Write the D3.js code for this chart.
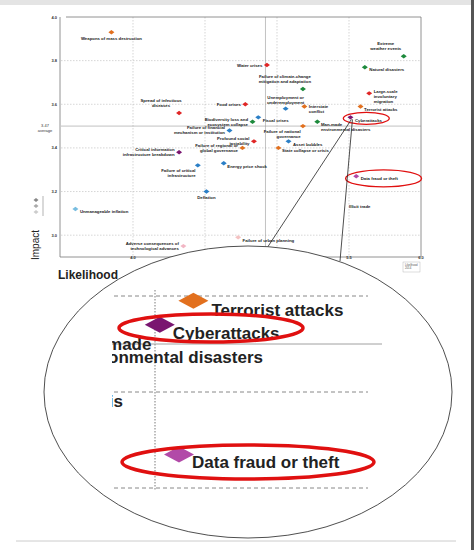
<!DOCTYPE html>
<html><head><meta charset="utf-8">
<script src="https://cdn.jsdelivr.net/npm/d3@7"></script>
<style>body{margin:0;background:#fff}svg{display:block;font-family:Arial,"Liberation Sans",sans-serif}</style>
</head><body><svg id="c" width="474" height="550"></svg>
<script>
const risks = ["Weapons of mass destruction","Water crises","Failure of climate-change|mitigation and adaptation","Food crises","Unemployment or|underemployment","Interstate|conflict","Fiscal crises","Biodiversity loss and|ecosystem collapse","Man-made|environmental disasters","Failure of national|governance","Cyberattacks","Terrorist attacks","Large-scale|involuntary|migration","Natural disasters","Extreme|weather events","Failure of financial|mechanism or institution","Profound social|instability","Asset bubbles","State collapse or crisis","Failure of regional or|global governance","Spread of infectious|diseases","Critical information|infrastructure breakdown","Failure of critical|infrastructure","Energy price shock","Data fraud or theft","Illicit trade","Deflation","Unmanageable inflation","Adverse consequences of|technological advances","Failure of urban planning"];
const likelihood = [3.85,4.93,5.18,4.78,5.06,5.19,4.87,4.83,5.28,5.18,5.51,5.58,5.64,5.61,5.88,4.67,4.84,5.08,5.01,4.76,4.32,4.32,4.45,4.63,5.55,5.50,4.51,3.60,4.35,4.73];
const impact = [3.93,3.78,3.67,3.60,3.58,3.59,3.54,3.52,3.52,3.50,3.54,3.59,3.65,3.77,3.82,3.48,3.43,3.43,3.40,3.40,3.56,3.38,3.32,3.33,3.27,3.13,3.20,3.12,2.95,2.99];
const category = ["geo","soc","env","soc","eco","geo","eco","env","env","geo","tec","geo","soc","env","env","eco","soc","eco","geo","geo","soc","tec","eco","eco","tec2","none","eco","eco2","tec3","soc2"];
const labelSide = ["b","l","tl","l","t","r","r","l","br","bl","r","br","r","r","tl","l","l","r","br","l","tl","l","bl","br","r","c","b","r","l","r"];
const xTicks = [4.0,5.5,6.0];
const yTicks = [4.0,3.8,3.6,3.4,3.2,3.0];
const xGrid = [4.0,4.5,5.0,5.5];
const avgImpact = 3.47, avgLikelihood = 4.92;
const colors = {geo:"#e2701e",soc:"#e02626",env:"#1d8a3c",eco:"#2b7fc6",tec:"#7a1670",tec2:"#b24aa8",tec3:"#f2b6c4",eco2:"#78bde0",soc2:"#f4c2c2",none:"none"};

const svg = d3.select("#c");
svg.append("rect").attr("x",0).attr("y",0).attr("width",474).attr("height",5).attr("fill","#e4e4e4");
svg.append("line").attr("x1",472.5).attr("x2",472.5).attr("y1",0).attr("y2",550).attr("stroke","#555").attr("stroke-width",3);

const x = d3.scaleLinear().domain([3.5,6.0]).range([61,421]);
const y = d3.scaleLinear().domain([2.9,4.0]).range([257,17]);
const g = svg.append("g");
xGrid.forEach(v=>g.append("line").attr("x1",x(v)).attr("x2",x(v)).attr("y1",17).attr("y2",257).attr("stroke","#bbb").attr("stroke-width",0.6).attr("stroke-dasharray","1.5,1.5"));
[3.8,3.6,3.4,3.2,3.0].forEach(v=>g.append("line").attr("x1",61).attr("x2",421).attr("y1",y(v)).attr("y2",y(v)).attr("stroke","#bbb").attr("stroke-width",0.6).attr("stroke-dasharray","1.5,1.5"));
g.append("line").attr("x1",61).attr("x2",421).attr("y1",y(3.5)).attr("y2",y(3.5)).attr("stroke","#999").attr("stroke-width",0.6);
g.append("line").attr("x1",x(avgLikelihood)).attr("x2",x(avgLikelihood)).attr("y1",17).attr("y2",257).attr("stroke","#999").attr("stroke-width",0.6);
g.append("line").attr("x1",66).attr("x2",421).attr("y1",17).attr("y2",17).attr("stroke","#777").attr("stroke-width",0.8);
g.append("line").attr("x1",421).attr("x2",421).attr("y1",17).attr("y2",257).attr("stroke","#777").attr("stroke-width",0.8);
g.append("line").attr("x1",60).attr("x2",60).attr("y1",17).attr("y2",257).attr("stroke","#777").attr("stroke-width",0.8);
g.append("line").attr("x1",60).attr("x2",421).attr("y1",257).attr("y2",257).attr("stroke","#777").attr("stroke-width",0.8);
yTicks.forEach(v=>g.append("text").attr("x",57).attr("y",y(v)+1.5).attr("text-anchor","end").attr("font-size",4).attr("font-weight","bold").attr("fill","#333").text(v.toFixed(1)));
xTicks.forEach(v=>g.append("text").attr("x",x(v)).attr("y",258.5).attr("text-anchor","middle").attr("font-size",4).attr("font-weight","bold").attr("fill","#333").text(v.toFixed(1)));
g.append("text").attr("x",45).attr("y",127).attr("text-anchor","middle").attr("font-size",4).attr("fill","#333").text("3.47");
g.append("text").attr("x",45).attr("y",132).attr("text-anchor","middle").attr("font-size",4).attr("fill","#333").text("average");
g.append("text").attr("transform","translate(39,245) rotate(-90)").attr("text-anchor","middle").attr("font-size",10).attr("fill","#222").text("Impact");
g.append("text").attr("x",58).attr("y",279).attr("font-size",12).attr("font-weight","bold").attr("fill","#222").text("Likelihood");
["#888","#aaa","#ccc"].forEach((c,i)=>g.append("path").attr("d","M-2.5,0L0,-2L2.5,0L0,2Z").attr("transform",`translate(36,${200+i*6})`).attr("fill",c));
g.append("line").attr("x1",43).attr("x2",43).attr("y1",196).attr("y2",216).attr("stroke","#666").attr("stroke-width",0.5);
g.append("rect").attr("x",403).attr("y",262).attr("width",17).attr("height",10).attr("fill","none").attr("stroke","#aaa").attr("stroke-width",0.4);
g.append("text").attr("x",405).attr("y",266).attr("font-size",2.8).attr("fill","#555").text("Likelihood");
g.append("text").attr("x",405).attr("y",269).attr("font-size",2.8).attr("fill","#555").text("2014");

function drawPoints(gr, xs, ys, dw, dh, fs, lh, off, brx, yRange){
  risks.forEach((name,i)=>{
    const px=xs(likelihood[i]), py=ys(impact[i]);
    if(yRange && (py<yRange[0]||py>yRange[1])) return;
    if(category[i]!=="none")
      gr.append("path").attr("d",`M${-dw},0L0,${-dh}L${dw},0L0,${dh}Z`).attr("transform",`translate(${px},${py})`).attr("fill",colors[category[i]]);
    const lines=name.split("|"), s=labelSide[i], n=lines.length;
    let tx=px, ty=py, anchor="start";
    if(s==="r"){tx=px+off; ty=py+off*0.6-(n-1)*lh/2+fs*0.35;}
    else if(s==="l"){tx=px-off; anchor="end"; ty=py-(n-1)*lh/2+fs*0.35;}
    else if(s==="b"){anchor="middle"; ty=py+off+fs*0.7;}
    else if(s==="t"){anchor="middle"; ty=py-off-(n-1)*lh;}
    else if(s==="tl"){anchor="middle"; tx=px-off*4; ty=py-off*1.3-(n-1)*lh;}
    else if(s==="br"){tx=px+brx; ty=py+off*0.4+fs*0.6;}
    else if(s==="bl"){anchor="end"; tx=px-off*0.5; ty=py+off+fs*0.5;}
    else if(s==="c"){tx=px; ty=py+fs*0.35;}
    const t=gr.append("text").attr("x",tx).attr("y",ty).attr("text-anchor",anchor).attr("font-size",fs).attr("font-weight","bold").attr("fill","#222");
    lines.forEach((l,k)=>t.append("tspan").attr("x",tx).attr("dy",k?lh:0).text(l));
  });
}
drawPoints(g.append("g"), x, y, 3, 2.2, 4.3, 5, 4.5, 3.6, null);
g.append("ellipse").attr("cx",x(5.62)).attr("cy",y(3.54)+1).attr("rx",23).attr("ry",6).attr("fill","none").attr("stroke","#e01010").attr("stroke-width",1.3);
g.append("ellipse").attr("cx",x(5.74)).attr("cy",y(3.26)).attr("rx",38).attr("ry",8.5).attr("fill","none").attr("stroke","#e01010").attr("stroke-width",1.3);

const L = svg.append("g");
L.append("ellipse").attr("cx",248).attr("cy",392).attr("rx",204).attr("ry",146).attr("fill","#fff").attr("stroke","#222").attr("stroke-width",0.8);
L.append("line").attr("x1",x(5.51)+1).attr("y1",y(3.54)+2).attr("x2",268).attr("y2",246.5).attr("stroke","#222").attr("stroke-width",0.8);
L.append("line").attr("x1",x(5.51)+2).attr("y1",y(3.54)+2).attr("x2",340).attr("y2",261).attr("stroke","#222").attr("stroke-width",0.8);
svg.append("clipPath").attr("id","lc").append("rect").attr("x",112).attr("y",285).attr("width",272).attr("height",212);
const lx = d3.scaleLinear().domain([5.5,5.6]).range([155,203]);
const ly = d3.scaleLinear().domain([3.6,3.4]).range([296,392]);
const C = L.append("g").attr("clip-path","url(#lc)");
[3.6,3.4,3.2].forEach(v=>C.append("line").attr("x1",114).attr("x2",368).attr("y1",ly(v)).attr("y2",ly(v)).attr("stroke","#888").attr("stroke-width",1).attr("stroke-dasharray","4,3"));
C.append("line").attr("x1",112).attr("x2",382).attr("y1",ly(3.5)).attr("y2",ly(3.5)).attr("stroke","#888").attr("stroke-width",0.8);
C.append("line").attr("x1",lx(5.5)).attr("x2",lx(5.5)).attr("y1",290).attr("y2",490).attr("stroke","#999").attr("stroke-width",1.3).attr("stroke-dasharray","1.5,1.5");
drawPoints(C, lx, ly, 15, 8, 17, 13, 13, 18, [285,497]);
L.append("ellipse").attr("cx",211).attr("cy",328).attr("rx",92).attr("ry",14).attr("fill","none").attr("stroke","#e01010").attr("stroke-width",3.5);
L.append("ellipse").attr("cx",248).attr("cy",462).attr("rx",126).attr("ry",17).attr("fill","none").attr("stroke","#e01010").attr("stroke-width",3.5);
svg.append("line").attr("x1",16).attr("x2",456).attr("y1",541).attr("y2",541).attr("stroke","#ccc").attr("stroke-width",1);
</script></body></html>
